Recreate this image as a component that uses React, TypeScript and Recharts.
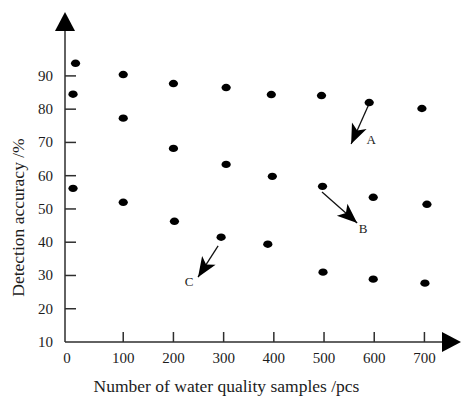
import React from "react";
import {
  ScatterChart,
  Scatter,
  XAxis,
  YAxis,
  ReferenceLine,
  ReferenceDot,
} from "recharts";

// Series A (top group)
const xA = [5, 100, 200, 305, 395, 495, 590, 695];
const yA = [93.8, 90.4, 87.7, 86.5, 84.4, 84.1, 82.0, 80.2];
// Series B (middle group)
const xB = [0, 100, 200, 305, 397, 497, 598, 705];
const yB = [84.5, 77.3, 68.2, 63.4, 59.8, 56.8, 53.5, 51.4];
// Series C (bottom group)
const xC = [0, 100, 202, 295, 388, 498, 598, 701];
const yC = [56.2, 52.0, 46.3, 41.5, 39.4, 31.0, 28.9, 27.7];

const xTicks = [0, 100, 200, 300, 400, 500, 600, 700];
const yTicks = [10, 20, 30, 40, 50, 60, 70, 80, 90];

// Annotation arrows (data coordinates) and labels
const arrowNames = ["A", "B", "C"];
const arrowFrom = [
  { x: 588, y: 81.0 },
  { x: 496, y: 55.1 },
  { x: 289, y: 38.9 },
];
const arrowTo = [
  { x: 554, y: 69.5 },
  { x: 566, y: 45.8 },
  { x: 249, y: 29.5 },
];
const labelPos = [
  { x: 594, y: 70.8 },
  { x: 578, y: 44.0 },
  { x: 231, y: 28.3 },
];

const toPoints = (xs: number[], ys: number[]) =>
  xs.map((x, i) => ({ x, y: ys[i] }));

const dataA = toPoints(xA, yA);
const dataB = toPoints(xB, yB);
const dataC = toPoints(xC, yC);

const FONT = "'Liberation Serif', 'Times New Roman', serif";
const TEXT = "#1c1c1c";
const AXIS = "#2e2e2e";

const Dot = (props: any) => (
  <ellipse cx={props.cx} cy={props.cy} rx={4.6} ry={3.7} fill="#000" />
);

const XTick = (props: any) => {
  const { x, y, payload } = props;
  const v = payload.value;
  return (
    <g>
      {v !== 0 && (
        <line x1={x} y1={y} x2={x} y2={y - 10} stroke={AXIS} strokeWidth={1.5} />
      )}
      <text
        x={v === 0 ? x - 6 : x}
        y={y + 21}
        textAnchor="middle"
        fontFamily={FONT}
        fontSize={15}
        fill={TEXT}
      >
        {v}
      </text>
    </g>
  );
};

const YTick = (props: any) => {
  const { x, y, payload } = props;
  const v = payload.value;
  return (
    <g>
      {v !== 10 && (
        <line x1={x} y1={y} x2={x + 11} y2={y} stroke={AXIS} strokeWidth={1.5} />
      )}
      <text
        x={x - 12}
        y={y + 5}
        textAnchor="end"
        fontFamily={FONT}
        fontSize={15}
        fill={TEXT}
      >
        {v}
      </text>
    </g>
  );
};

const YLabel = (props: any) => {
  const vb = props.viewBox;
  const cx = vb.x + 18;
  const cy = vb.y + vb.height / 2 + 31;
  return (
    <text
      x={cx}
      y={cy}
      transform={`rotate(-90, ${cx}, ${cy})`}
      textAnchor="middle"
      dominantBaseline="central"
      fontFamily={FONT}
      fontSize={17.5}
      fill={TEXT}
    >
      Detection accuracy /%
    </text>
  );
};

const XLabel = (props: any) => {
  const vb = props.viewBox;
  const cx = vb.x + vb.width / 2 - 27;
  const cy = vb.y + 50;
  return (
    <text
      x={cx}
      y={cy}
      textAnchor="middle"
      fontFamily={FONT}
      fontSize={17.5}
      fill={TEXT}
    >
      Number of water quality samples /pcs
    </text>
  );
};

const makeLabelShape = (name: string) => (p: any) => (
  <text
    x={p.cx}
    y={p.cy}
    textAnchor="middle"
    dominantBaseline="central"
    fontFamily={FONT}
    fontSize={13}
    fill={TEXT}
  >
    {name}
  </text>
);

export default function App() {
  return (
    <div style={{ width: 474, height: 399, background: "#fff" }}>
      <style>{"body{margin:0;background:#fff}"}</style>
      <svg width={0} height={0} style={{ position: "absolute" }}>
        <defs>
          <marker
            id="axisArrow"
            markerUnits="userSpaceOnUse"
            markerWidth={22}
            markerHeight={22}
            refX={0}
            refY={10}
            orient="auto-start-reverse"
            overflow="visible"
          >
            <path d="M0,0 L19,10 L0,20 Z" fill="#000" />
          </marker>
          <marker
            id="noteArrow"
            markerUnits="userSpaceOnUse"
            markerWidth={22}
            markerHeight={18}
            refX={20}
            refY={8}
            orient="auto"
            overflow="visible"
          >
            <path d="M0,0 L20,8 L0,16 L5,8 Z" fill="#000" />
          </marker>
        </defs>
      </svg>
      <ScatterChart
        width={474}
        height={399}
        margin={{ top: 31, right: 32, bottom: 0, left: 0 }}
      >
        <XAxis
          type="number"
          dataKey="x"
          domain={[-16, 735]}
          ticks={xTicks}
          allowDataOverflow
          height={57}
          tickSize={0}
          tickMargin={0}
          tickLine={false}
          tick={<XTick />}
          axisLine={{ stroke: AXIS, strokeWidth: 1.5, markerEnd: "url(#axisArrow)" }}
          label={<XLabel />}
        />
        <YAxis
          type="number"
          dataKey="y"
          domain={[10, 103.5]}
          ticks={yTicks}
          allowDataOverflow
          width={65}
          tickSize={0}
          tickMargin={0}
          tickLine={false}
          tick={<YTick />}
          axisLine={{ stroke: AXIS, strokeWidth: 1.5, markerStart: "url(#axisArrow)" }}
          label={<YLabel />}
        />
        <Scatter data={dataA} shape={<Dot />} isAnimationActive={false} />
        <Scatter data={dataB} shape={<Dot />} isAnimationActive={false} />
        <Scatter data={dataC} shape={<Dot />} isAnimationActive={false} />
        {arrowNames.map((n, i) => (
          <ReferenceLine
            key={"l" + n}
            segment={[arrowFrom[i], arrowTo[i]]}
            stroke="#111"
            strokeWidth={1.3}
            markerEnd="url(#noteArrow)"
          />
        ))}
        {arrowNames.map((n, i) => (
          <ReferenceDot
            key={"d" + n}
            x={labelPos[i].x}
            y={labelPos[i].y}
            r={1}
            shape={makeLabelShape(n)}
          />
        ))}
      </ScatterChart>
    </div>
  );
}
